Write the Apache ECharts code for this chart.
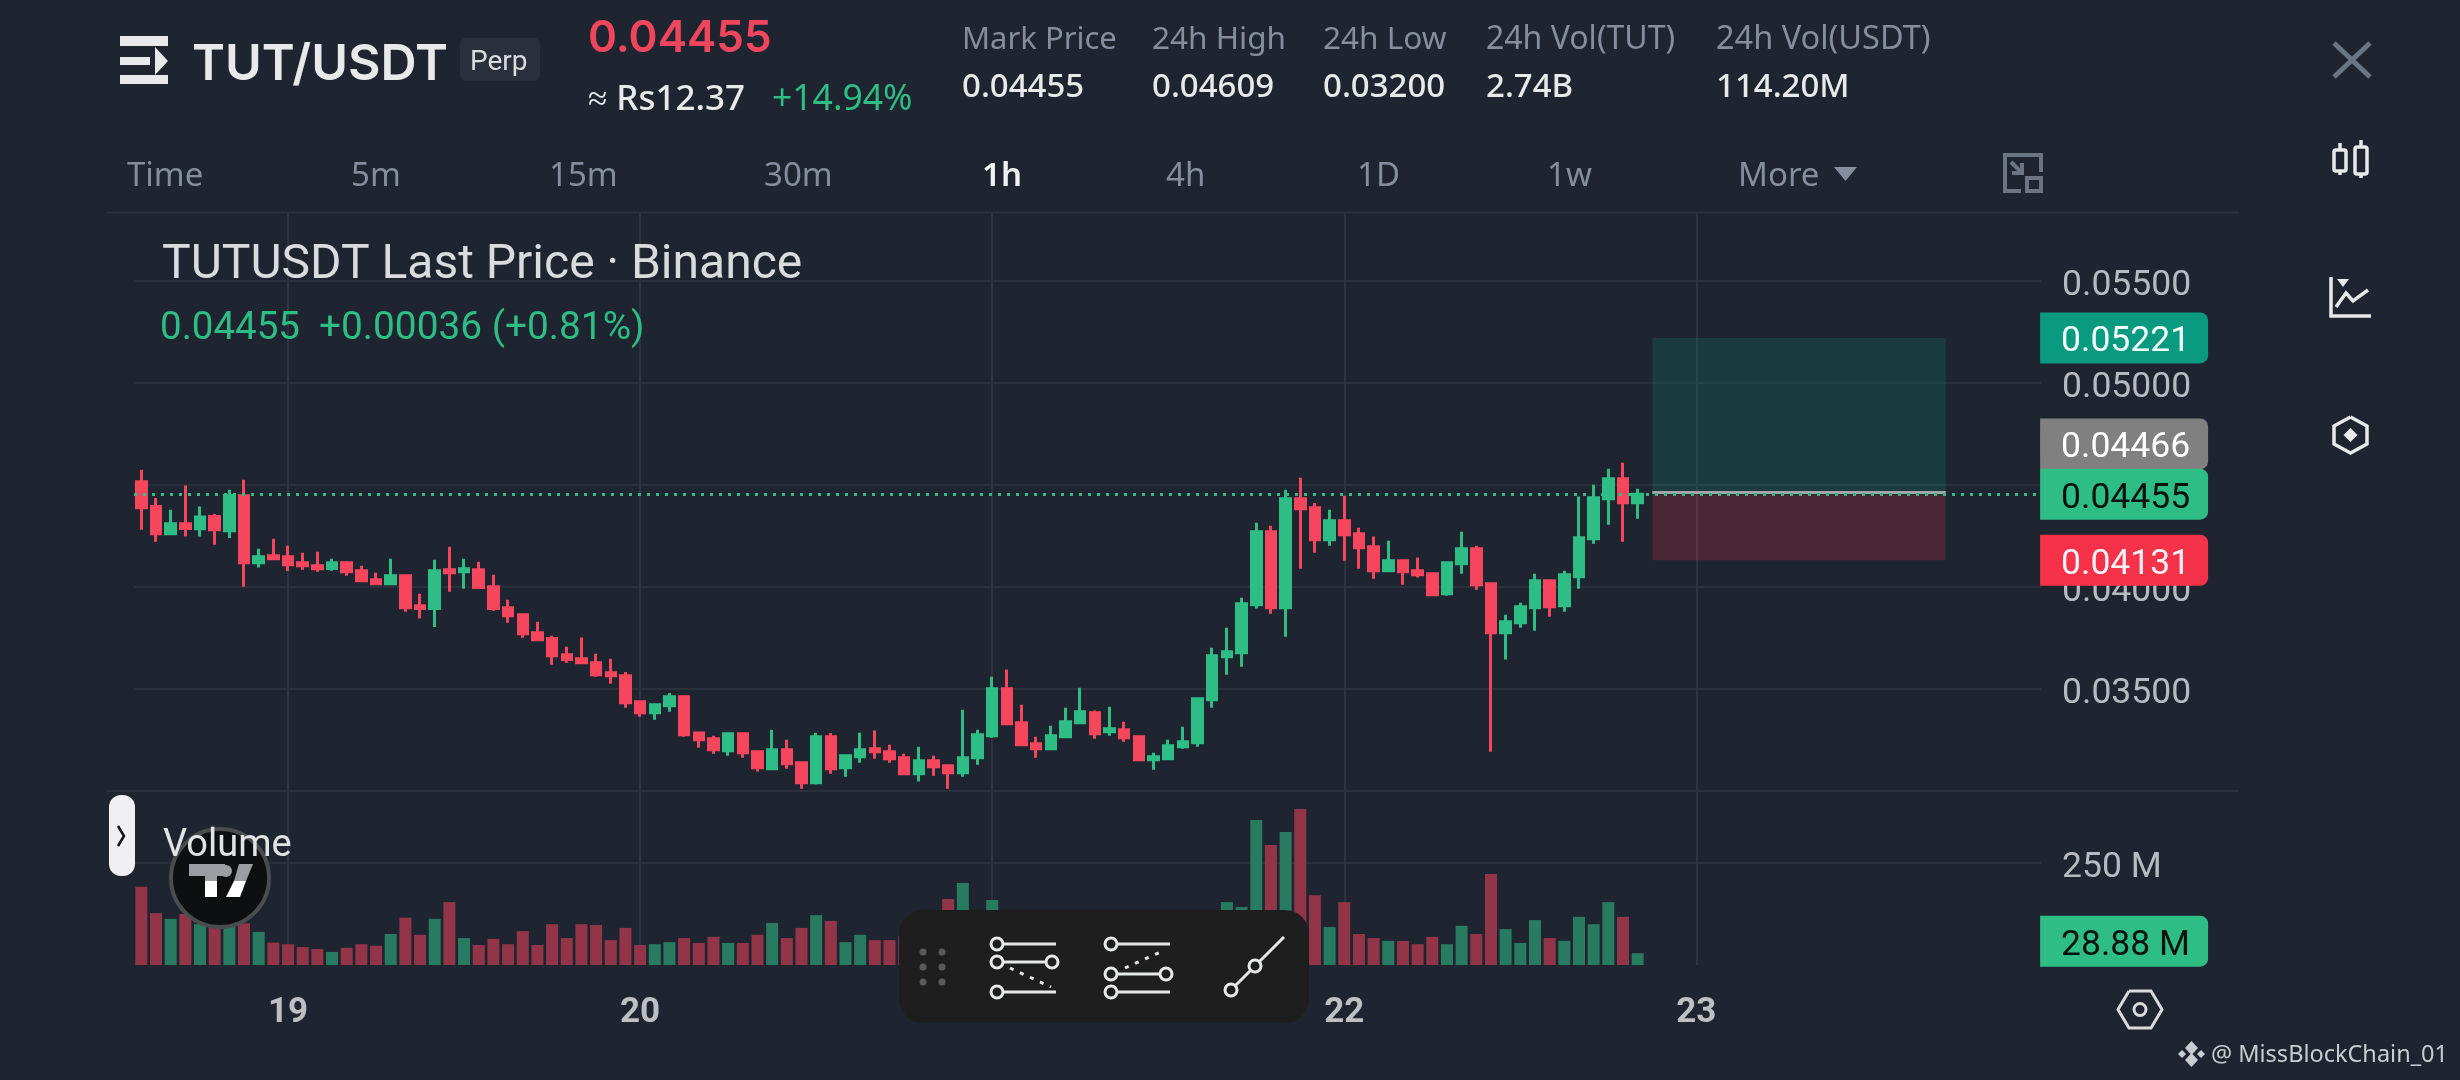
<!DOCTYPE html>
<html><head><meta charset="utf-8">
<style>html,body{margin:0;padding:0;background:#1e2530;overflow:hidden}#c{width:2460px;height:1080px}</style>
<script src="https://cdn.jsdelivr.net/npm/echarts@6/dist/echarts.min.js"></script>
</head><body><div id="c"></div>
<script>
const opens=[.04516,.04394,.04261,.0431,.04286,.04345,.04276,.04447,.04119,.04153,.04148,.04119,.04104,.04091,.04119,.0408,.04036,.04016,.04055,.03908,.03894,.04085,.04075,.04085,.04001,.03898,.03864,.03776,.03747,.03668,.03648,.03629,.0358,.03565,.03438,.03384,.03418,.03462,.03284,.03256,.03197,.03281,.03193,.03109,.03202,.03139,.03041,.03266,.03114,.03168,.03207,.03193,.03163,.03085,.03148,.03124,.0309,.03163,.03271,.03501,.03335,.03232,.03207,.03266,.03335,.03384,.03291,.033,.03266,.03153,.03158,.03217,.03237,.03447,.03658,.03678,.03913,.04271,.03898,.04433,.04389,.04232,.04325,.04261,.04197,.0408,.04129,.0408,.04065,.03967,.04114,.04188,.04016,.03776,.03825,.03898,.04031,.03908,.0405,.04237,.04433,.04531,.04413];
const closes=[.04389,.04261,.0431,.04287,.04343,.04281,.04449,.04119,.04148,.04139,.04109,.04104,.0409,.04119,.04075,.04031,.04016,.04055,.03898,.03894,.0408,.0407,.0409,.03997,.03894,.03859,.03771,.03742,.03663,.03644,.03629,.0357,.03565,.03433,.03384,.03423,.03462,.03276,.03251,.03202,.03281,.03188,.03114,.03202,.03134,.03041,.03266,.03109,.03173,.03202,.03193,.03158,.03085,.03148,.03119,.0309,.03163,.03276,.03501,.0333,.03227,.03207,.03271,.0334,.03389,.03281,.03305,.03261,.03153,.03168,.03222,.03242,.03452,.03663,.03683,.03918,.04271,.03898,.04433,.04384,.04232,.04325,.04256,.04193,.0408,.04129,.04075,.0406,.03962,.04119,.04188,.04011,.03776,.0383,.03903,.04031,.03903,.0406,.04242,.04438,.04531,.04413,.04455];
const lows=[.04281,.04222,.04258,.04248,.04247,.04207,.0424,.04001,.04095,.04139,.04078,.04085,.04075,.0408,.04055,.04031,.0401,.04016,.03879,.03846,.03804,.03977,.03992,.03992,.03884,.03825,.03751,.03738,.03619,.03629,.03626,.0356,.03526,.03408,.03364,.03349,.03389,.03266,.03212,.03183,.03173,.03163,.03095,.03109,.03109,.03011,.03032,.03085,.0307,.03139,.03158,.03139,.03085,.03046,.03075,.03011,.0307,.03129,.03261,.0333,.03227,.03163,.03207,.03266,.0333,.03256,.03271,.03242,.03148,.03104,.03158,.03207,.03217,.03408,.0357,.03609,.03894,.03869,.03756,.0409,.04168,.04202,.04129,.0409,.04041,.04075,.04011,.04046,.03957,.03957,.04065,.03987,.03193,.03644,.038,.03786,.03854,.03879,.03992,.04212,.04305,.04222,.04335];
const highs=[.04575,.04436,.04379,.04497,.04394,.04358,.04477,.04526,.04188,.04237,.04202,.04168,.04173,.04139,.04127,.04104,.0407,.04139,.0406,.03967,.04134,.04197,.04139,.04124,.0406,.03938,.03869,.0383,.03761,.03707,.03753,.03673,.03648,.03583,.03438,.03428,.0348,.03462,.03291,.03271,.03284,.03284,.03197,.033,.03251,.03139,.03286,.03284,.03173,.03286,.03296,.03227,.03183,.03217,.03173,.03129,.03398,.033,.0356,.03595,.03423,.03266,.0332,.03408,.03506,.03394,.03413,.0334,.03271,.03188,.03251,.03315,.03457,.03702,.038,.03947,.04315,.043,.04477,.04536,.04412,.04379,.04447,.04291,.04247,.04227,.04129,.04144,.04065,.04124,.04271,.04202,.04019,.03864,.03923,.04065,.04036,.0408,.04443,.04501,.0458,.04609,.04482];
const volumes=[192,127,113,125,100,95,100,102,81,55,51,44,39,32,42,51,47,76,116,74,113,154,66,49,64,51,83,49,100,66,100,98,61,91,49,51,56,66,54,69,54,54,74,103,66,91,122,108,56,74,61,61,70,90,75,162,201,110,159,130,90,60,55,50,60,55,45,50,60,40,45,50,100,130,154,142,355,294,326,382,171,93,154,76,66,59,59,51,69,51,96,76,223,88,54,110,66,59,118,100,154,118,28.88];
const hourSlots=130;
const dayTickSlots=[10,34,58,82,106];
const dayTickLabels=['19','20','21','22','23'];
const priceTicks=[0.035,0.04,0.045,0.05,0.055];
const lastPrice=0.04455, entryPrice=0.04466, takeProfit=0.05221, stopLoss=0.04131;
const lastVolume=28.88;
const positionFrom=103, positionTo=123;

const BG='#1e2530',UP='#2ebd85',DOWN='#f6465d',GRID='#2a303a';
const categories=Array.from({length:hourSlots},(_,i)=>'h'+i);
const candleData=opens.map((o,i)=>[o,closes[i],lows[i],highs[i]]);
const volumeData=volumes.map((v,i)=>({value:v,itemStyle:{color:closes[i]>=opens[i]?'#287a60':'#923549'}}));

function badge(value,text,bg,fg,offsetY){
  return {yAxis:value,lineStyle:{color:'rgba(0,0,0,0)',width:1,type:'solid'},symbol:'none',
    label:{show:true,position:'end',distance:-1,formatter:'{t|'+text+'}',offset:[0,offsetY||0],
      backgroundColor:bg,color:fg,
      rich:{t:{fontFamily:'Roboto',fontSize:35.5,color:fg,lineHeight:34,padding:[9,0,0,0]}},
      borderRadius:[0,8,8,0],padding:[8.5,18,8.5,21],width:129,align:'left',verticalAlign:'middle'}};
}
const T=(x,y,s,size,color,o)=>({type:'text',z:100,x,y,style:Object.assign({text:s,fontSize:size,fill:color,fontFamily:'"Noto Sans"',textVerticalAlign:'middle',textBaseline:'middle'},o||{})});
const L=(pts,color,w)=>({type:'polyline',z:100,shape:{points:pts},style:{stroke:color,lineWidth:w,fill:null}});
const C=(cx,cy,r,stroke,w,fill)=>({type:'circle',z:100,shape:{cx,cy,r},style:{stroke:stroke,lineWidth:w||0,fill:fill||null}});
const R=(x,y,w,h,fill,r)=>({type:'rect',z:100,shape:{x,y,width:w,height:h,r:r||0},style:{fill}});
const P=(pts,fill)=>({type:'polygon',z:100,shape:{points:pts},style:{fill}});

const W='#e8e9ea',G1='#848e9c',ICON='#6b7583';
const graphics=[
  L([[107,212.5],[2239,212.5]],GRID,2),L([[107,791],[2239,791]],GRID,2),
  R(120,36,48,10,W),R(120,75,48,9,W),R(120,57,30,8,W),P([[155,47],[168,61],[155,75]],W),
  T(192,65,'TUT/USDT',50,W,{fontFamily:'Inter',fontWeight:600}),
  R(460,38,80,43,'#2a303b',6),T(470,63,'Perp',28,'#dcdde0',{fontFamily:'Roboto'}),
  T(588,39,'0.04455',44,'#f0465d',{fontFamily:'Inter',fontWeight:600}),
  T(588,100,'≈ Rs12.37',35,W,{fontWeight:500}),
  T(772,100,'+14.94%',35.5,UP,{}),
  T(962,40,'Mark Price',31,G1),T(1152,40,'24h High',31.5,G1),T(1323,40,'24h Low',31.5,G1),T(1486,40,'24h Vol(TUT)',32,G1),T(1716,40,'24h Vol(USDT)',32.5,G1),
  T(962,88,'0.04455',33,W,{fontWeight:500}),T(1152,88,'0.04609',33,W,{fontWeight:500}),T(1323,88,'0.03200',33,W,{fontWeight:500}),T(1486,88,'2.74B',33,W,{fontWeight:500}),T(1716,88,'114.20M',33,W,{fontWeight:500}),
  T(127,177,'Time',33,G1),T(351,177,'5m',33,G1),T(549,177,'15m',33,G1),T(764,177,'30m',33,G1),
  T(982,177,'1h',33,'#f0f1f2',{fontWeight:600}),T(1166,177,'4h',33,G1),T(1357,177,'1D',33,G1),T(1547,177,'1w',33,G1),T(1738,177,'More',33,G1),
  P([[1834,167],[1857,167],[1845.5,181]],G1),
  L([[2041,172],[2041,155],[2005,155],[2005,191],[2021,191]],ICON,4),
  {type:'rect',z:100,shape:{x:2027,y:178,width:14,height:13},style:{stroke:ICON,lineWidth:4,fill:null}},
  L([[2011,162],[2022,173]],ICON,4),L([[2022,163],[2022,173],[2012,173]],ICON,4),
  L([[2334,43],[2370,77]],ICON,5),L([[2370,43],[2334,77]],ICON,5),
  {type:'rect',z:100,shape:{x:2334,y:150,width:12,height:21,r:2},style:{stroke:W,lineWidth:3.5,fill:null}},L([[2340,143],[2340,150]],W,3.5),L([[2340,171],[2340,175]],W,3.5),
  {type:'rect',z:100,shape:{x:2355,y:147,width:12,height:27,r:2},style:{stroke:W,lineWidth:3.5,fill:null}},L([[2361,140],[2361,147]],W,3.5),L([[2361,174],[2361,178]],W,3.5),
  L([[2331,277],[2331,316],[2371,316]],W,3.5),L([[2336,307],[2346,293],[2353,301],[2368,290]],W,3.5),P([[2337,279],[2349,279],[2343,287]],W),
  L([[2350.5,417],[2367,426],[2367,444],[2350.5,453],[2334,444],[2334,426],[2350.5,417]],W,3.5),P([[2350.5,428],[2357.5,435],[2350.5,442],[2343.5,435]],W),
  T(162,266,'TUTUSDT Last Price · Binance',48,'#d9dbde',{fontFamily:'Roboto'}),
  T(160,329,'0.04455',38.5,UP,{fontFamily:'Roboto'}),T(319,329,'+0.00036 (+0.81%)',38.8,UP,{fontFamily:'Roboto'}),
  R(109,795,26,81,'#f0f0f2',12),L([[118,826],[124,836],[118,846]],'#111',2.5),
  C(220,878,49,'#4a4d50',4,'#0e0f11'),
  P([[189,864],[225,864],[225,876],[217,876],[217,881],[205,881],[205,876],[189,876]],'#9a9ea3'),
  {type:'circle',z:100,shape:{cx:226,cy:871,r:6},style:{fill:'#9a9ea3'}},
  P([[239,864],[253,864],[246,881],[234,881]],'#9a9ea3'),
  R(205,881,12,16,'#fff'),P([[234,881],[246,881],[240,897],[226,897]],'#fff'),
  T(163,846,'Volume',38,'#e2e3e5',{fontFamily:'Roboto'}),
  R(899,910,410,113,'#1e1e1e',24),
  ...[923,942].flatMap(x=>[952,967,982].map(y=>({type:'circle',z:101,shape:{cx:x,cy:y,r:3.5},style:{fill:'#5a5a5a'}}))),
  L([[997,944],[1056,944]],W,3),L([[997,962],[1052,962]],W,3),L([[997,992],[1056,992]],W,3),
  C(997,944,6,W,3,'#1e1e1e'),C(997,962,6,W,3,'#1e1e1e'),C(1052,962,6,W,3,'#1e1e1e'),C(997,992,6,W,3,'#1e1e1e'),
  Object.assign(L([[1010,968],[1051,987]],W,3),{style:{stroke:W,lineWidth:3,fill:null,lineDash:[4,7]}}),
  L([[1111,944],[1170,944]],W,3),L([[1111,974],[1166,974]],W,3),L([[1111,992],[1170,992]],W,3),
  C(1111,944,6,W,3,'#1e1e1e'),C(1111,974,6,W,3,'#1e1e1e'),C(1166,974,6,W,3,'#1e1e1e'),C(1111,992,6,W,3,'#1e1e1e'),
  Object.assign(L([[1125,968],[1165,950]],W,3),{style:{stroke:W,lineWidth:3,fill:null,lineDash:[4,7]}}),
  L([[1231,990],[1284,937]],W,3),C(1231,990,6,W,3,'#1e1e1e'),C(1255,966,6,W,3,'#1e1e1e'),
  L([[2129,991],[2151,991],[2162,1009.5],[2151,1028],[2129,1028],[2118,1009.5],[2129,991]],'#d9dadc',3),C(2140,1009.5,6,'#d9dadc',3),
  P([[2191.5,1041],[2198,1048],[2191.5,1055],[2185,1048]],'#c9ccd0'),P([[2191.5,1053],[2198,1060],[2191.5,1067],[2185,1060]],'#c9ccd0'),
  P([[2178,1054],[2182,1050],[2186,1054],[2182,1058]],'#c9ccd0'),P([[2197,1054],[2201,1050],[2205,1054],[2201,1058]],'#c9ccd0'),
  T(2211,1055,'@ MissBlockChain_01',23.5,'#c9ccd0')
];

const splitH={show:true,lineStyle:{color:GRID,width:2}};
const splitV={show:true,alignWithLabel:true,interval:(i)=>dayTickSlots.includes(i),lineStyle:{color:'#2e343f',width:2}};
const option={
  animation:false,backgroundColor:BG,
  grid:[{left:134,top:213,width:1907.1,height:578},{left:134,top:791,width:1907.1,height:174}],
  xAxis:[
    {type:'category',gridIndex:0,data:categories,boundaryGap:true,axisLine:{show:false},axisTick:{show:false},axisLabel:{show:false},splitLine:splitV},
    {type:'category',gridIndex:1,data:categories,boundaryGap:true,axisLine:{show:false},axisTick:{show:false},splitLine:splitV,
     axisLabel:{interval:(i)=>dayTickSlots.includes(i),margin:31,fontFamily:'Roboto',fontWeight:700,fontSize:35,color:'#bdbfc3',hideOverlap:false,
       formatter:(v)=>{const k=dayTickSlots.indexOf(+v.slice(1));return k>=0?dayTickLabels[k]:''}}}
  ],
  yAxis:[
    {type:'value',gridIndex:0,position:'right',min:0.03,max:0.058333,interval:0.005,axisLine:{show:false},axisTick:{show:false},splitLine:Object.assign({},splitH,{showMinLine:false,showMaxLine:false}),
     axisLabel:{margin:21,verticalAlign:'top',lineHeight:10,fontFamily:'Roboto',fontSize:35.5,color:'#b7bac0',showMinLabel:false,showMaxLabel:false,
       formatter:(v)=>priceTicks.some(t=>Math.abs(t-v)<1e-7)?v.toFixed(5):''}},
    {type:'value',gridIndex:1,position:'right',min:0,max:426.3,interval:250,axisLine:{show:false},axisTick:{show:false},splitLine:Object.assign({},splitH,{showMinLine:false,showMaxLine:false}),
     axisLabel:{margin:21,verticalAlign:'top',lineHeight:10,fontFamily:'Roboto',fontSize:35.5,color:'#b7bac0',formatter:(v)=>v===250?'250 M':''}}
  ],
  series:[
    {type:'candlestick',xAxisIndex:0,yAxisIndex:0,data:candleData,barWidth:10,z:5,
     itemStyle:{color:UP,color0:DOWN,borderColor:UP,borderColor0:DOWN,borderWidth:3},
     markArea:{silent:true,z:3,itemStyle:{borderWidth:0},data:[
       [{xAxis:positionFrom,yAxis:takeProfit,itemStyle:{color:'rgba(10,153,129,0.19)'}},{xAxis:positionTo,yAxis:entryPrice}],
       [{xAxis:positionFrom,yAxis:entryPrice,itemStyle:{color:'rgba(246,50,74,0.20)'}},{xAxis:positionTo,yAxis:stopLoss}]
     ]},
     markLine:{silent:true,symbol:'none',animation:false,precision:5,z:20,data:[
       [{xAxis:positionFrom,yAxis:entryPrice,lineStyle:{color:'#a3a5a8',width:3,type:'solid'},label:{show:false},symbol:'none'},{xAxis:positionTo,yAxis:entryPrice,symbol:'none'}],
       {yAxis:lastPrice,lineStyle:{color:UP,width:3,type:[3,6]},label:{show:false}},
       badge(takeProfit,takeProfit.toFixed(5),'#0a9981','#f2fffb'),
       badge(entryPrice,entryPrice.toFixed(5),'#808080','#ffffff',-48),
       badge(lastPrice,lastPrice.toFixed(5),UP,'#06120e'),
       badge(stopLoss,stopLoss.toFixed(5),'#f6324a','#fff2f4')
     ]}},
    {type:'bar',xAxisIndex:1,yAxisIndex:1,data:volumeData,barWidth:12,z:5,
     markLine:{silent:true,symbol:'none',animation:false,precision:2,z:20,data:[badge(lastVolume,lastVolume.toFixed(2)+' M',UP,'#06120e',-12)]}}
  ],
  graphic:{elements:graphics}
};
const chart=echarts.init(document.getElementById('c'),null,{width:2460,height:1080,renderer:'canvas'});
chart.setOption(option);
</script></body></html>
